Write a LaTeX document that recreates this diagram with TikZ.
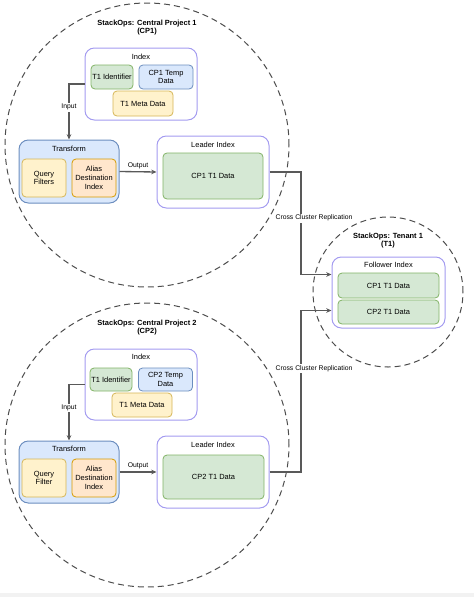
\documentclass[tikz,border=0pt]{standalone}
\usepackage{fontspec}
\setmainfont{Liberation Sans}
\usetikzlibrary{arrows.meta,calc}
\definecolor{grnfill}{HTML}{D5E8D4}
\definecolor{grnline}{HTML}{82B366}
\definecolor{bluefill}{HTML}{DAE8FC}
\definecolor{blueline}{HTML}{6C8EBF}
\definecolor{yelfill}{HTML}{FFF2CC}
\definecolor{yelline}{HTML}{D6B656}
\definecolor{orfill}{HTML}{FFE6CC}
\definecolor{orline}{HTML}{D79B00}
\definecolor{boxline}{HTML}{A39BF0}
\tikzstyle{cluster} = [draw=black!70, dash pattern=on 4.5pt off 3pt, circle, line width=0.75pt, inner sep=0pt]
\tikzstyle{container} = [draw=boxline, fill=white, rectangle, rounded corners=7pt, line width=0.75pt, inner sep=0pt]
\tikzstyle{greenbox} = [draw=grnline, fill=grnfill, rectangle, rounded corners=3pt, line width=0.6pt, inner sep=0pt, align=center]
\tikzstyle{bluebox} = [draw=blueline, fill=bluefill, rectangle, rounded corners=3pt, line width=0.6pt, inner sep=0pt, align=center]
\tikzstyle{yellowbox} = [draw=yelline, fill=yelfill, rectangle, rounded corners=3pt, line width=0.6pt, inner sep=0pt, align=center]
\tikzstyle{orangebox} = [draw=orline, fill=orfill, rectangle, rounded corners=3pt, line width=0.6pt, inner sep=0pt, align=center]
\tikzstyle{transformbox} = [draw=blueline, fill=bluefill, rectangle, rounded corners=7pt, line width=0.75pt, inner sep=0pt]
\tikzstyle{clustertitle} = [font=\fontsize{5.6}{6.6}\selectfont\bfseries, align=center, inner sep=0pt]
\tikzstyle{boxtitle} = [inner sep=0pt]
\tikzstyle{flow} = [draw=black!65, line width=1pt, -{Stealth[length=4pt,width=3.5pt]}]
\tikzstyle{flowlabel} = [fill=white, inner sep=1pt, font=\fontsize{5.1}{6}\selectfont]

\begin{document}
\begin{tikzpicture}[x=0.75pt, y=-0.75pt, font=\fontsize{5.6}{6.6}\selectfont]
		\useasboundingbox (0,0) rectangle (474,597);
		\fill[black!5] (0,593) rectangle (474,597);

		% Central project 1
		\node[cluster, minimum size=213pt] (cp1) at (147,145) {};
		\node[clustertitle] (cp1title) at (147,27.5) {StackOps: Central Project 1\\(CP1)};
		\node[container, minimum width=84pt, minimum height=54pt] (idx1) at (141,84) {};
		\node[boxtitle] at (141,57) {Index};
		\node[greenbox, minimum width=31.5pt, minimum height=18pt] (tid1) at (112,77) {T1 Identifier};
		\node[bluebox, minimum width=40.5pt, minimum height=18pt] (tmp1) at (166,77) {CP1 Temp\\Data};
		\node[yellowbox, minimum width=45pt, minimum height=18.75pt] (meta1) at (143,103.5) {T1 Meta Data};
		\node[transformbox, minimum width=75pt, minimum height=47.25pt] (tr1) at (69,171.5) {};
		\node[boxtitle] at (69,149) {Transform};
		\node[yellowbox, minimum width=33pt, minimum height=28.5pt] (qf1) at (44,178) {Query\\Filters};
		\node[orangebox, minimum width=33pt, minimum height=28.5pt] (al1) at (94,178) {Alias\\Destination\\Index};
		\node[container, minimum width=84pt, minimum height=54pt] (li1) at (213,172) {};
		\node[boxtitle] at (213,145) {Leader Index};
		\node[greenbox, minimum width=75pt, minimum height=34.5pt] (d1) at (213,176) {CP1 T1 Data};

		% Central project 2
		\node[cluster, minimum size=213pt] (cp2) at (147,445) {};
		\node[clustertitle] (cp2title) at (147,327.5) {StackOps: Central Project 2\\(CP2)};
		\node[container, minimum width=84pt, minimum height=53.25pt] (idx2) at (141,384.5) {};
		\node[boxtitle] at (141,357) {Index};
		\node[greenbox, minimum width=31.5pt, minimum height=17.25pt] (tid2) at (111,379.5) {T1 Identifier};
		\node[bluebox, minimum width=40.5pt, minimum height=17.25pt] (tmp2) at (165.5,379.5) {CP2 Temp\\Data};
		\node[yellowbox, minimum width=45pt, minimum height=18pt] (meta2) at (142,405) {T1 Meta Data};
		\node[transformbox, minimum width=75pt, minimum height=46.5pt] (tr2) at (69,472) {};
		\node[boxtitle] at (69,449) {Transform};
		\node[yellowbox, minimum width=33pt, minimum height=28.5pt] (qf2) at (44,478) {Query\\Filter};
		\node[orangebox, minimum width=33pt, minimum height=28.5pt] (al2) at (94,478) {Alias\\Destination\\Index};
		\node[container, minimum width=84pt, minimum height=54pt] (li2) at (213,472) {};
		\node[boxtitle] at (213,445) {Leader Index};
		\node[greenbox, minimum width=75.75pt, minimum height=33pt] (d2) at (213.5,477) {CP2 T1 Data};

		% Tenant 1
		\node[cluster, minimum size=112.5pt] (t1) at (388,292) {};
		\node[clustertitle] (t1title) at (388,240.5) {StackOps: Tenant 1\\(T1)};
		\node[container, minimum width=84.75pt, minimum height=53.25pt] (fi) at (388.5,292.5) {};
		\node[boxtitle] at (388.5,265) {Follower Index};
		\node[greenbox, minimum width=75.75pt, minimum height=18.75pt] (f1) at (388.5,285.5) {CP1 T1 Data};
		\node[greenbox, minimum width=75.75pt, minimum height=18pt] (f2) at (388.5,312) {CP2 T1 Data};

		% connectors
		\coordinate (rep) at (301,0);
		\coordinate (in1) at ($(fi.north west)!0.25!(fi.south west)$);
		\coordinate (in2) at ($(fi.north west)!0.75!(fi.south west)$);
		\draw[flow] (idx1.west) -| node[flowlabel, pos=0.71] {Input} (tr1.north);
		\draw[flow] (tr1.east) -- node[flowlabel, above=1pt, fill=none] {Output} (li1.west);
		\draw[flow] (li1.east) -- (li1.east -| rep) |- node[flowlabel, pos=0.225, xshift=9.75pt] {Cross Cluster Replication} (in1);
		\draw[flow] (idx2.west) -| node[flowlabel, pos=0.71] {Input} (tr2.north);
		\draw[flow] (tr2.east) -- node[flowlabel, above=1pt, fill=none] {Output} (li2.west);
		\draw[flow] (li2.east) -- (li2.east -| rep) |- node[flowlabel, pos=0.321, xshift=9.75pt] {Cross Cluster Replication} (in2);
	\end{tikzpicture}
\end{document}
